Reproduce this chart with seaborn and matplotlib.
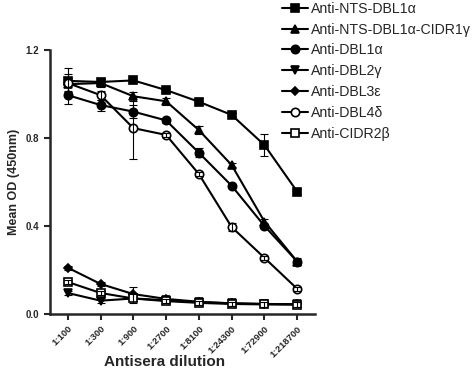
import matplotlib
matplotlib.use("Agg")
import matplotlib.pyplot as plt
import seaborn as sns
import pandas as pd

dilutions = ["1:100", "1:300", "1:900", "1:2700", "1:8100", "1:24300", "1:72900", "1:218700"]

nts_dbl1a = [1.06, 1.055, 1.062, 1.018, 0.965, 0.905, 0.768, 0.556]
nts_dbl1a_cidr1g = [1.045, 1.05, 0.99, 0.967, 0.836, 0.677, 0.42, 0.238]
dbl1a = [0.995, 0.95, 0.92, 0.88, 0.733, 0.583, 0.40, 0.238]
dbl2g = [0.095, 0.06, 0.07, 0.062, 0.053, 0.048, 0.045, 0.044]
dbl3e = [0.21, 0.136, 0.09, 0.068, 0.055, 0.048, 0.045, 0.044]
dbl4d = [1.05, 0.995, 0.845, 0.814, 0.636, 0.395, 0.255, 0.114]
cidr2b = [0.145, 0.095, 0.07, 0.058, 0.05, 0.045, 0.043, 0.042]

# rough error bar half-widths
err_nts = [0.06, 0.02, 0.01, 0.01, 0.015, 0.01, 0.05, 0.01]
err_tri = [0.03, 0.02, 0.02, 0.015, 0.02, 0.01, 0.01, 0.01]
err_dbl1a = [0.04, 0.025, 0.03, 0.01, 0.02, 0.01, 0.01, 0.015]
err_dbl4d = [0.04, 0.02, 0.14, 0.01, 0.01, 0.02, 0.01, 0.01]
err_dbl3e = [0.01, 0.01, 0.03, 0.01, 0.01, 0.01, 0.01, 0.01]
err_cidr = [0.01, 0.01, 0.02, 0.01, 0.01, 0.01, 0.01, 0.01]
err_dbl2g = [0.01, 0.01, 0.01, 0.01, 0.01, 0.01, 0.01, 0.01]

series = [
    ("Anti-NTS-DBL1α", nts_dbl1a, err_nts, "s", "black"),
    ("Anti-NTS-DBL1α-CIDR1γ", nts_dbl1a_cidr1g, err_tri, "^", "black"),
    ("Anti-DBL1α", dbl1a, err_dbl1a, "o", "black"),
    ("Anti-DBL2γ", dbl2g, err_dbl2g, "v", "black"),
    ("Anti-DBL3ε", dbl3e, err_dbl3e, "D", "black"),
    ("Anti-DBL4δ", dbl4d, err_dbl4d, "o", "white"),
    ("Anti-CIDR2β", cidr2b, err_cidr, "s", "white"),
]

sns.set_style("ticks")
plt.rcParams["font.family"] = ["Liberation Sans", "DejaVu Sans"]

fig = plt.figure(figsize=(4.74, 3.71), dpi=100)
ax = fig.add_axes([0.105, 0.154, 0.56, 0.711])

x = list(range(len(dilutions)))
for name, vals, err, mk, face in series:
    df = pd.DataFrame({"x": x, "y": vals})
    msize = 4.5 if mk == "D" else 6
    sns.lineplot(data=df, x="x", y="y", ax=ax, color="black", linewidth=1.5,
                 marker=mk, markersize=msize, markerfacecolor=face,
                 markeredgecolor="black", markeredgewidth=1.2, label=name)
    ax.errorbar(x, vals, yerr=err, fmt="none", ecolor="black",
                elinewidth=0.8, capsize=3, capthick=0.8)

ax.set_xlim(-0.55, 7.55)
ax.set_ylim(0, 1.2)
ax.set_yticks([0.0, 0.4, 0.8, 1.2])
ax.set_yticklabels(["0.0", "0.4", "0.8", "1.2"], fontsize=7, fontweight="bold")
ax.set_xticks(x)
ax.set_xticklabels(dilutions, rotation=45, ha="right", rotation_mode="anchor",
                   fontsize=6.8, fontweight="bold")
ax.set_xlabel("Antisera dilution", fontsize=11, fontweight="bold", va="center")
ax.xaxis.set_label_coords(0.434, -0.182)
ax.set_ylabel("Mean OD (450nm)", fontsize=9, fontweight="bold")
sns.despine(ax=ax)
for sp in ["left", "bottom"]:
    ax.spines[sp].set_linewidth(1.8)
ax.tick_params(width=1.5, length=4)

handles, labels = ax.get_legend_handles_labels()
ax.get_legend().remove()
fig.legend(handles, labels, loc="upper left", bbox_to_anchor=(282 / 474, 0.995),
           frameon=False, fontsize=10.2, handlelength=1.85, handletextpad=0.22,
           labelspacing=0.48, borderpad=0, borderaxespad=0)

fig.savefig("out.png", dpi=100)
